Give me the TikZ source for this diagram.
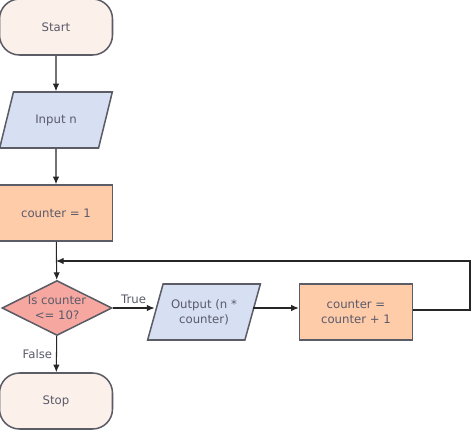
\documentclass[tikz,border=0pt]{standalone}
\usepackage{fontspec}
\setmainfont{DejaVu Sans}
\usetikzlibrary{shapes,arrows,arrows.meta,positioning}

\definecolor{termfill}{HTML}{FBF0EA}
\definecolor{iofill}{HTML}{D7DFF3}
\definecolor{procfill}{HTML}{FFCCAA}
\definecolor{condfill}{HTML}{F6A8A0}
\definecolor{edgegray}{HTML}{5C5C66}
\definecolor{txtgray}{HTML}{5A5A6A}

\begin{document}
\begin{tikzpicture}[x=0.03cm, y=-0.03cm, >={Latex[length=6.5pt,width=5.5pt]},
    base/.style={draw=edgegray, line width=1.3pt, text=txtgray,
        font=\fontsize{10}{12.5}\selectfont, align=center},
    term/.style={base, rectangle, rounded corners=0.6cm, fill=termfill,
        minimum width=3.39cm, minimum height=1.68cm},
    io/.style={base, trapezium, trapezium left angle=67, trapezium right angle=113,
        trapezium stretches=true, fill=iofill,
        minimum width=3.39cm, minimum height=1.68cm},
    proc/.style={base, rectangle, fill=procfill,
        minimum width=3.39cm, minimum height=1.68cm},
    cond/.style={base, diamond, fill=condfill, aspect=2, inner sep=-3pt,
        minimum width=3.3cm, minimum height=1.65cm},
    link/.style={->, line width=0.9pt, draw=black!85},
    lbl/.style={text=txtgray, font=\fontsize{10}{12}\selectfont}]

    \useasboundingbox (0,0) rectangle (474,439);

    % Left column
    \node[term] (start) at (56,27) {Start};
    \node[io]   (input) at (56,120) {Input n};
    \node[proc] (init)  at (56,213) {counter = 1};
    \node[cond] (check) at (57,308) {Is counter\\<= 10?};
    \node[term] (stop)  at (56,401) {Stop};

    % Loop body
    \node[io]   (output) at (204,312) {Output (n *\\counter)};
    \node[proc] (incr)   at (356,312) {counter =\\counter + 1};

    \coordinate (back) at (470,261);

    \draw[link] (start) -- (input);
    \draw[link] (input) -- (init);
    \draw[link] (init) -- (check);
    \draw[link] (check.east) -- node[lbl, above] {True} (check.east -| output.west);
    \draw[link] (check.east -| output.east) -- (check.east -| incr.west);
    \draw[link] (incr.east |- 0,310) -| (back) -- (init.south |- back);
    \draw[link] (check) -- node[lbl, left] {False} (stop);
\end{tikzpicture}
\end{document}
